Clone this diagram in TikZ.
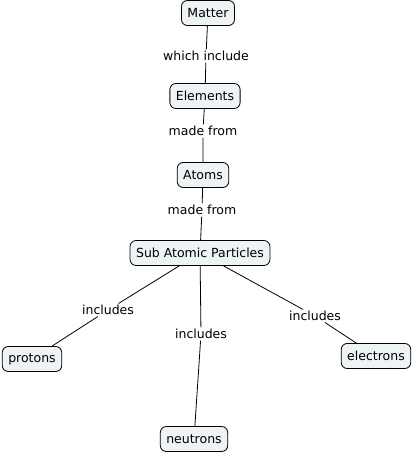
\documentclass[tikz,border=0pt]{standalone}
\usepackage{fontspec}
\setmainfont{DejaVu Sans}
\usetikzlibrary{positioning}
\definecolor{cfill}{HTML}{EEF3F5}

\begin{document}
\begin{tikzpicture}[
    x=1pt, y=-1pt,
    every node/.style={font=\fontsize{12.5}{14}\selectfont},
    concept/.style={draw, rounded corners=6pt, fill=cfill, minimum height=25pt, inner xsep=6pt, line width=0.8pt},
    link/.style={inner sep=1.5pt},
    conn/.style={line width=0.8pt},
]
    \useasboundingbox (0,0) rectangle (413,455);

    % Concepts
    \node[concept] (matter) at (208,13) {Matter};
    \node[concept] (elements) at (205,96) {Elements};
    \node[concept] (atoms) at (203,175) {Atoms};
    \node[concept] (sap) at (200,253) {Sub Atomic Particles};
    \node[concept] (protons) at (32,359) {protons};
    \node[concept] (neutrons) at (194,439) {neutrons};
    \node[concept] (electrons) at (376,356) {electrons};

    % Linking phrases
    \node[link] (incl) at (206,56) {which include};
    \node[link] (mf1) at (203,131) {made from};
    \node[link] (mf2) at (202,210) {made from};
    \node[link] (inc1) at (108,310) {includes};
    \node[link] (inc2) at (201,334) {includes};
    \node[link] (inc3) at (315,316) {includes};

    % Connections
    \draw[conn] (matter) -- (incl) -- (elements);
    \draw[conn] (elements) -- (mf1) -- (atoms);
    \draw[conn] (atoms) -- (mf2) -- (sap);
    \draw[conn] (sap) -- (inc1) -- (protons);
    \draw[conn] (sap) -- (inc2) -- (neutrons);
    \draw[conn] (sap) -- (inc3) -- (electrons);
\end{tikzpicture}
\end{document}
